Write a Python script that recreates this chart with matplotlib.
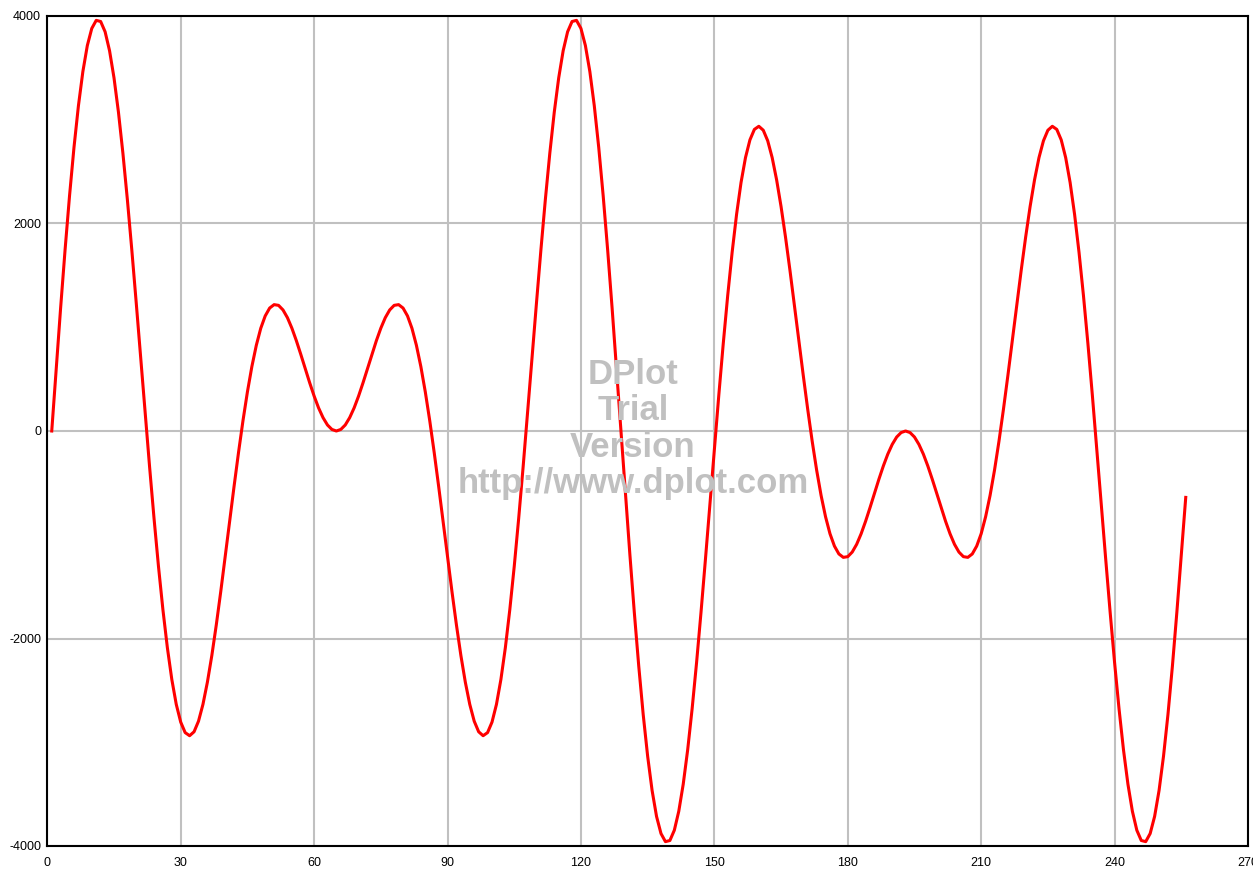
import matplotlib
matplotlib.use("Agg")
import matplotlib.pyplot as plt

# one sample per x unit, x = 1 .. 256
x = list(range(1, 257))
y = [0, 601, 1189, 1748, 2267, 2733, 3135, 3465, 3715, 3880, 3958, 3947, 3848, 3665, 3404, 3073,
     2678, 2233, 1747, 1234, 705, 175, -345, -842, -1305, -1723, -2089, -2395, -2635, -2806, -2907, -2937,
     -2899, -2797, -2635, -2421, -2163, -1869, -1549, -1214, -872, -533, -207, 99, 377, 621, 826, 990,
     1109, 1185, 1218, 1211, 1167, 1092, 991, 871, 739, 601, 465, 337, 223, 129, 58, 15,
     0, 15, 58, 129, 223, 337, 465, 601, 739, 871, 991, 1092, 1167, 1211, 1218, 1185,
     1109, 990, 826, 621, 377, 99, -207, -533, -872, -1214, -1549, -1869, -2163, -2421, -2635, -2797,
     -2899, -2937, -2907, -2806, -2635, -2395, -2089, -1723, -1305, -842, -345, 175, 705, 1234, 1747, 2233,
     2678, 3073, 3404, 3665, 3848, 3947, 3958, 3880, 3715, 3465, 3135, 2733, 2267, 1748, 1189, 601,
     0, -601, -1189, -1748, -2267, -2733, -3135, -3465, -3715, -3880, -3958, -3947, -3848, -3665, -3404, -3073,
     -2678, -2233, -1747, -1234, -705, -175, 345, 842, 1305, 1723, 2089, 2395, 2635, 2806, 2907, 2937,
     2899, 2797, 2635, 2421, 2163, 1869, 1549, 1214, 872, 533, 207, -99, -377, -621, -826, -990,
     -1109, -1185, -1218, -1211, -1167, -1092, -991, -871, -739, -601, -465, -337, -223, -129, -58, -15,
     0, -15, -58, -129, -223, -337, -465, -601, -739, -871, -991, -1092, -1167, -1211, -1218, -1185,
     -1109, -990, -826, -621, -377, -99, 207, 533, 872, 1214, 1549, 1869, 2163, 2421, 2635, 2797,
     2899, 2937, 2907, 2806, 2635, 2395, 2089, 1723, 1305, 842, 345, -175, -705, -1234, -1747, -2233,
     -2678, -3073, -3404, -3665, -3848, -3947, -3958, -3880, -3715, -3465, -3135, -2733, -2267, -1748, -1189, -640]

xticks = [0, 30, 60, 90, 120, 150, 180, 210, 240, 270]
yticks = [-4000, -2000, 0, 2000, 4000]

plt.rcParams["font.family"] = ["Liberation Sans", "DejaVu Sans"]

fig = plt.figure(figsize=(12.53, 8.77), dpi=100)
ax = fig.add_axes([47.3 / 1253, 1 - 846 / 877, (1248 - 47.3) / 1253, 830 / 877])

ax.plot(x, y, color="red", linewidth=2.2, zorder=4)

ax.set_xlim(0, 270)
ax.set_ylim(-4000, 4000)
ax.set_xticks(xticks)
ax.set_yticks(yticks)
ax.set_xticklabels([str(t) for t in xticks])
ax.set_yticklabels([str(t) for t in yticks])
ax.tick_params(axis="both", length=0, labelsize=9, colors="black")
ax.tick_params(axis="x", pad=8)
ax.tick_params(axis="y", pad=4.5)
ax.grid(True, color="#c0c0c0", linewidth=1.5, zorder=1)
ax.set_axisbelow(True)
for s in ax.spines.values():
    s.set_linewidth(1.5)
    s.set_color("black")
    s.set_zorder(5)

# trial watermark
fig.text(633 / 1253, 1 - 429 / 877, "DPlot\nTrial\nVersion\nhttp://www.dplot.com",
         ha="center", va="center", fontsize=25, fontweight="bold", color="#c0c0c0",
         linespacing=1.13, zorder=2)

fig.savefig("out.png", dpi=100)
